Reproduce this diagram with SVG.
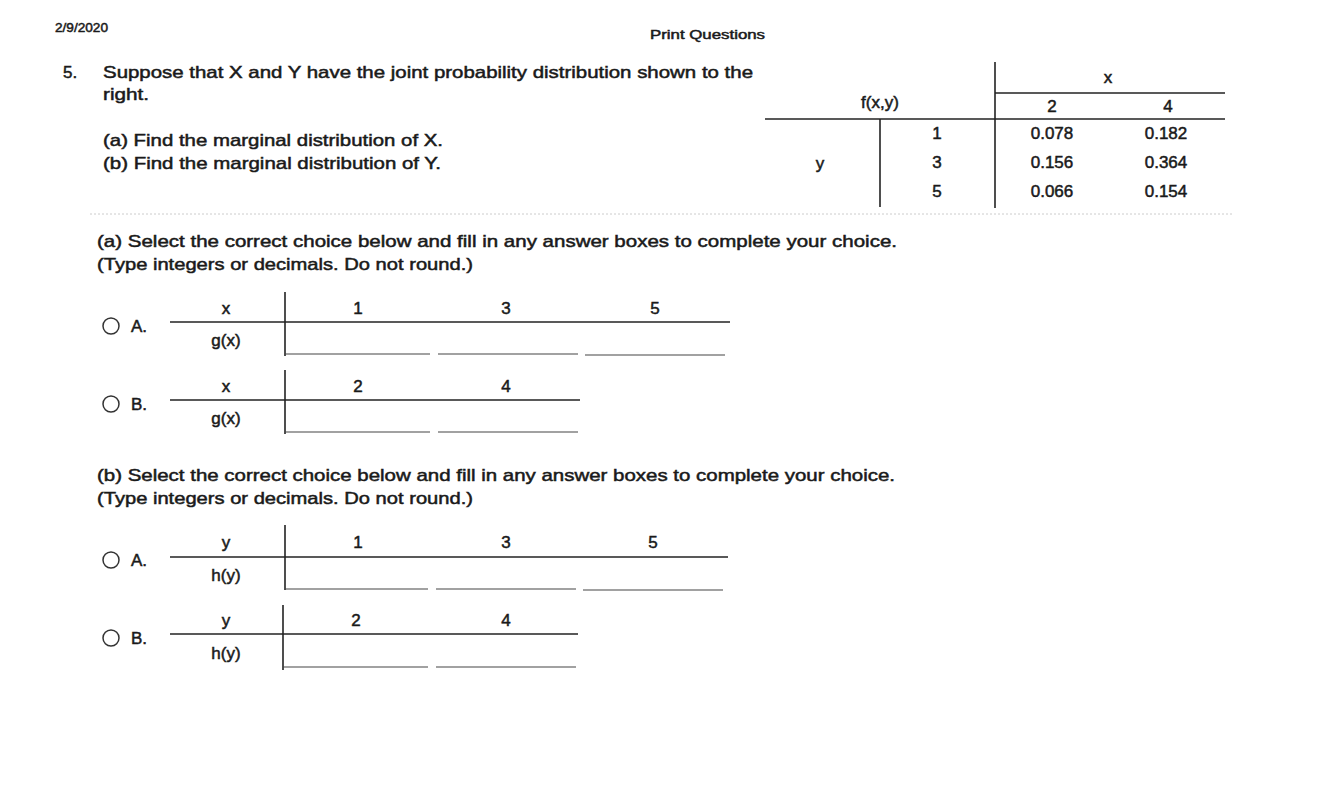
<svg xmlns="http://www.w3.org/2000/svg" width="1330" height="786" viewBox="0 0 1330 786">
<style>
text{font-family:"Liberation Sans",Arial,sans-serif;fill:#1a1a1a;font-size:17px;stroke:#1a1a1a;stroke-width:0.5}
.s{font-size:13px}
.c{text-anchor:middle}
.l{stroke:#222;stroke-width:1.6;fill:none}
.a{stroke:#444;stroke-width:1.2}
.r{fill:#fff;stroke:#333;stroke-width:1.5}
</style>
<rect width="1330" height="786" fill="#fff"/>
<text x="55" y="32" class="s" textLength="53" lengthAdjust="spacingAndGlyphs">2/9/2020</text>
<text x="650" y="39" class="s" textLength="115" lengthAdjust="spacingAndGlyphs">Print Questions</text>
<text x="63" y="78">5.</text>
<text x="103" y="78" textLength="650" lengthAdjust="spacingAndGlyphs">Suppose that X and Y have the joint probability distribution shown to the</text>
<text x="103" y="100" textLength="46" lengthAdjust="spacingAndGlyphs">right.</text>
<text x="103" y="146" textLength="340" lengthAdjust="spacingAndGlyphs">(a) Find the marginal distribution of X.</text>
<text x="103" y="169" textLength="338" lengthAdjust="spacingAndGlyphs">(b) Find the marginal distribution of Y.</text>
<g>
<line class="l" x1="995" y1="62" x2="995" y2="208"/>
<line class="l" x1="995" y1="93" x2="1225" y2="93"/>
<line class="l" x1="765" y1="119" x2="1225" y2="119"/>
<line class="l" x1="880" y1="119" x2="880" y2="207"/>
<text x="1108" y="83" class="c">x</text>
<text x="880" y="108" class="c">f(x,y)</text>
<text x="1052" y="112" class="c">2</text><text x="1168" y="112" class="c">4</text>
<text x="820" y="169" class="c">y</text>
<text x="937" y="139" class="c">1</text><text x="937" y="168" class="c">3</text><text x="937" y="197" class="c">5</text>
<text x="1052" y="139" class="c">0.078</text><text x="1166" y="139" class="c">0.182</text>
<text x="1052" y="168" class="c">0.156</text><text x="1166" y="168" class="c">0.364</text>
<text x="1052" y="197" class="c">0.066</text><text x="1166" y="197" class="c">0.154</text>
</g>
<line x1="90" y1="214" x2="1232" y2="214" stroke="#ccc" stroke-width="1" stroke-dasharray="2,2"/>
<text x="97" y="247" textLength="800" lengthAdjust="spacingAndGlyphs">(a) Select the correct choice below and fill in any answer boxes to complete your choice.</text>
<text x="97" y="270" textLength="376" lengthAdjust="spacingAndGlyphs">(Type integers or decimals. Do not round.)</text>
<g id="aA">
<circle class="r" cx="111" cy="326" r="8"/><text x="131" y="332">A.</text>
<text x="226" y="314" class="c">x</text><text x="358" y="314" class="c">1</text><text x="506" y="314" class="c">3</text><text x="655" y="314" class="c">5</text>
<line class="l" x1="170" y1="322" x2="730" y2="322"/><line class="l" x1="285" y1="292" x2="285" y2="356"/>
<text x="226" y="346" class="c">g(x)</text>
<line class="a" x1="285" y1="354" x2="430" y2="354"/><line class="a" x1="438" y1="354" x2="578" y2="354"/><line class="a" x1="585" y1="355" x2="725" y2="355"/>
</g>
<g id="aB">
<circle class="r" cx="111" cy="404" r="8"/><text x="131" y="410">B.</text>
<text x="226" y="392" class="c">x</text><text x="358" y="392" class="c">2</text><text x="506" y="392" class="c">4</text>
<line class="l" x1="170" y1="400" x2="580" y2="400"/><line class="l" x1="285" y1="370" x2="285" y2="434"/>
<text x="226" y="424" class="c">g(x)</text>
<line class="a" x1="285" y1="432" x2="430" y2="432"/><line class="a" x1="438" y1="432" x2="578" y2="432"/>
</g>
<text x="97" y="481" textLength="798" lengthAdjust="spacingAndGlyphs">(b) Select the correct choice below and fill in any answer boxes to complete your choice.</text>
<text x="97" y="504" textLength="376" lengthAdjust="spacingAndGlyphs">(Type integers or decimals. Do not round.)</text>
<g id="bA">
<circle class="r" cx="111" cy="560" r="8"/><text x="131" y="566">A.</text>
<text x="226" y="548" class="c">y</text><text x="358" y="548" class="c">1</text><text x="506" y="548" class="c">3</text><text x="653" y="548" class="c">5</text>
<line class="l" x1="170" y1="557" x2="728" y2="557"/><line class="l" x1="285" y1="525" x2="285" y2="590"/>
<text x="226" y="581" class="c">h(y)</text>
<line class="a" x1="285" y1="589" x2="428" y2="589"/><line class="a" x1="436" y1="589" x2="576" y2="589"/><line class="a" x1="583" y1="590" x2="723" y2="590"/>
</g>
<g id="bB">
<circle class="r" cx="111" cy="638" r="8"/><text x="131" y="644">B.</text>
<text x="226" y="626" class="c">y</text><text x="356" y="626" class="c">2</text><text x="506" y="626" class="c">4</text>
<line class="l" x1="170" y1="634" x2="578" y2="634"/><line class="l" x1="283" y1="605" x2="283" y2="670"/>
<text x="226" y="659" class="c">h(y)</text>
<line class="a" x1="283" y1="667" x2="428" y2="667"/><line class="a" x1="436" y1="667" x2="576" y2="667"/>
</g>
</svg>
